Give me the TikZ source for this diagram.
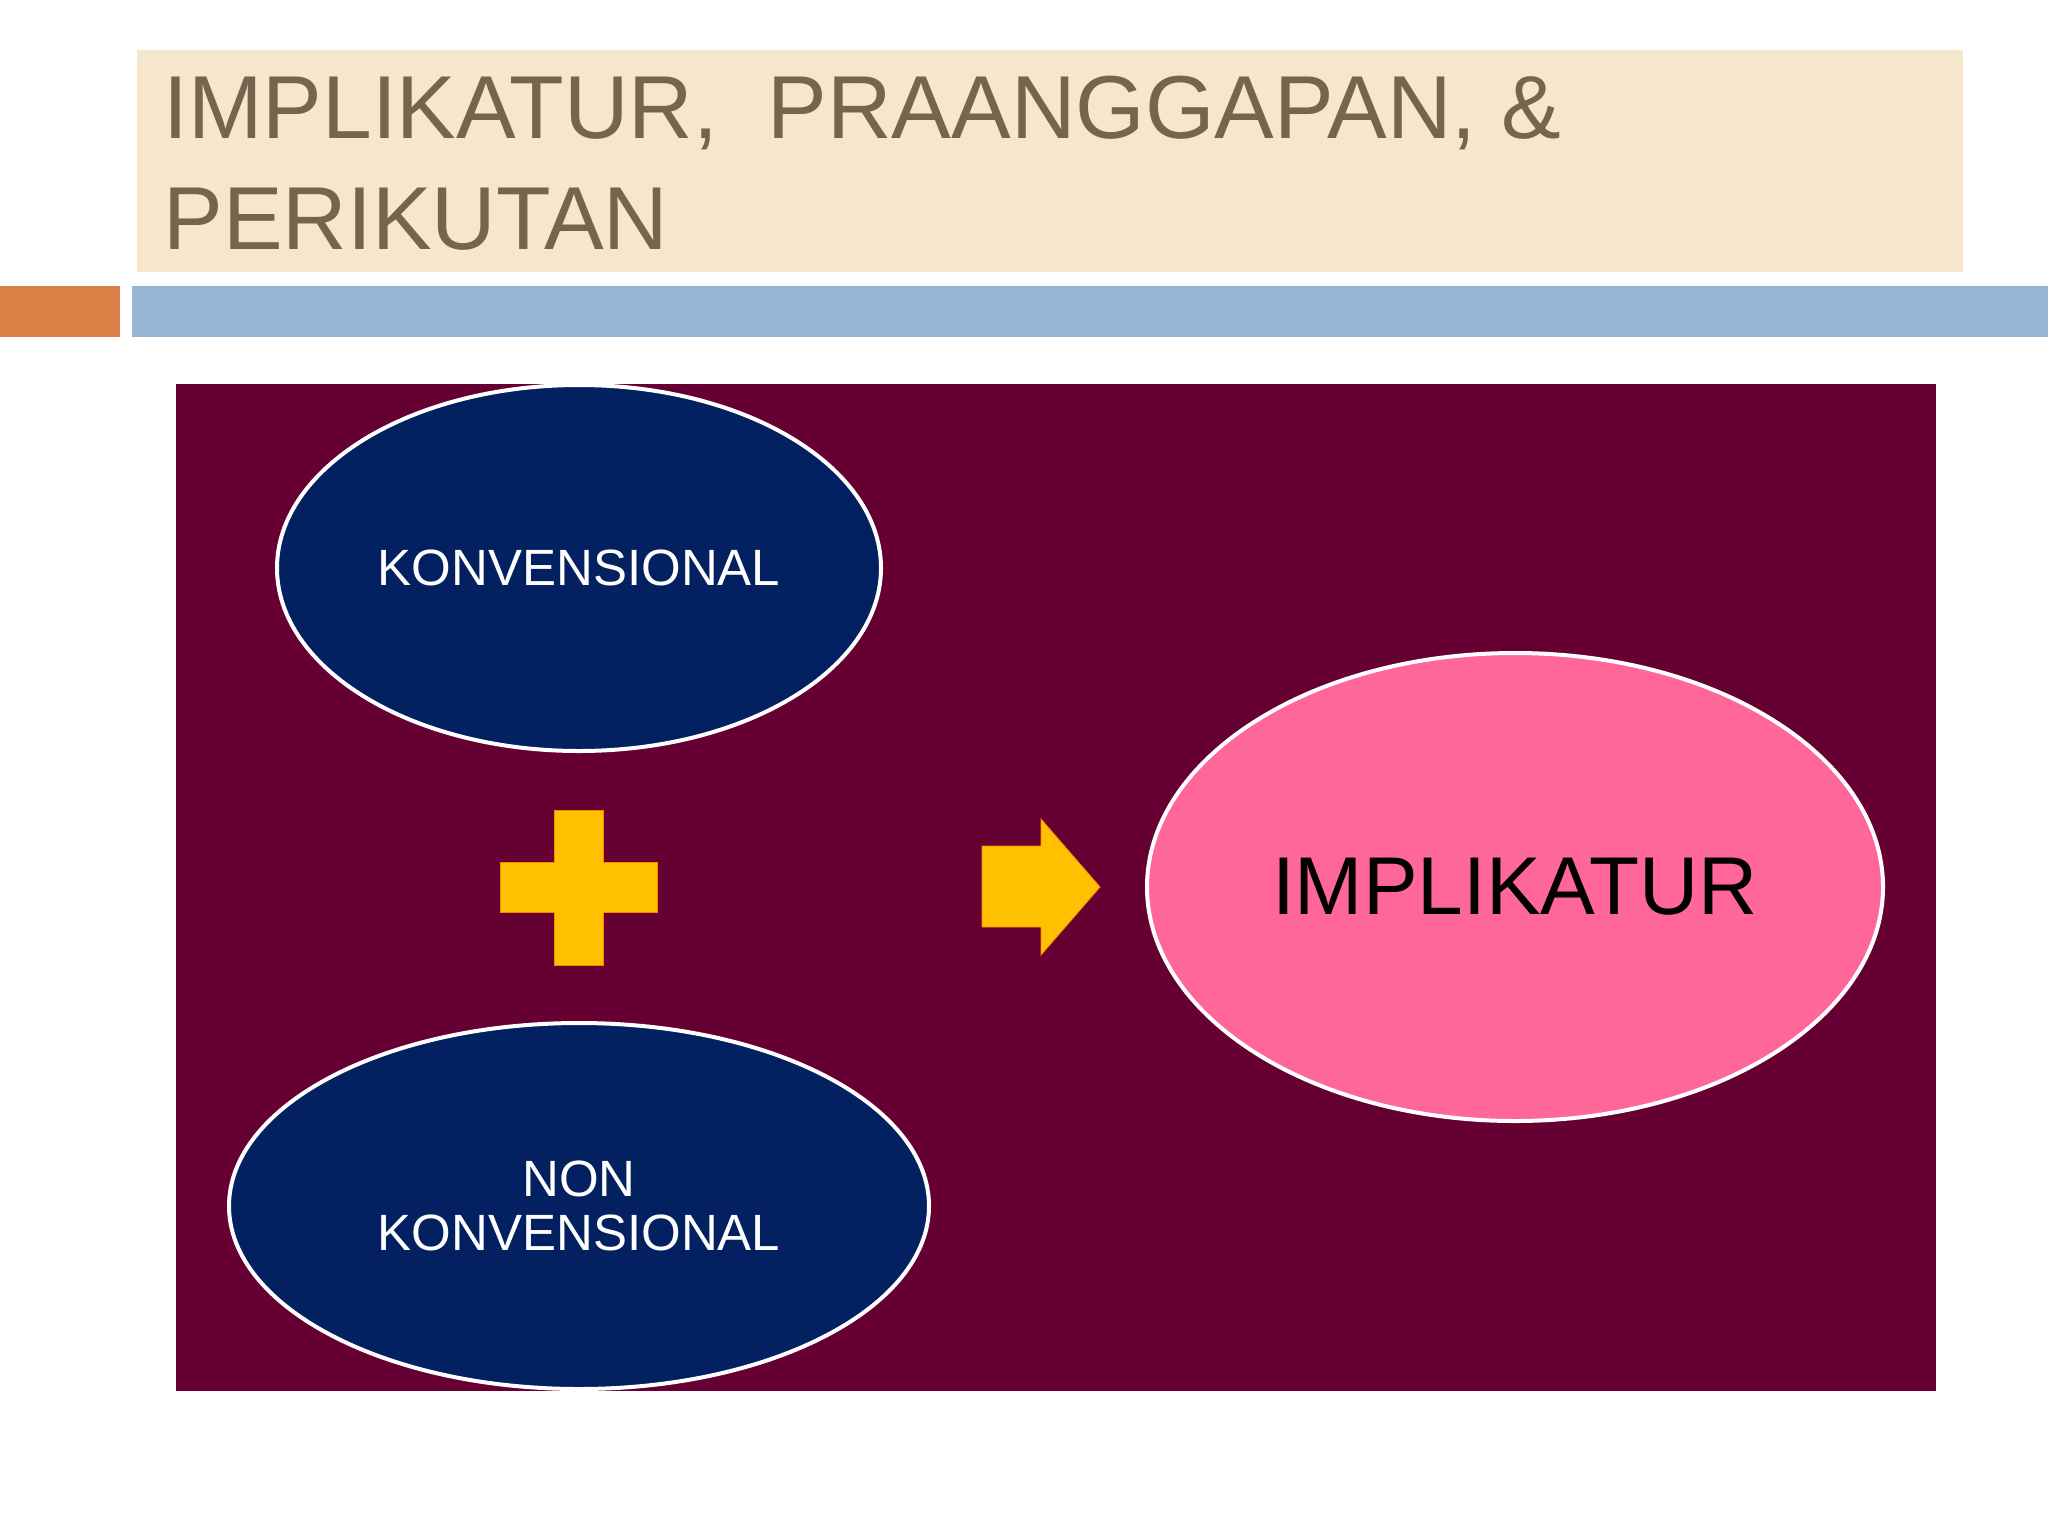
\documentclass[tikz,border=0pt]{standalone}
\usepackage{fontspec}
\setmainfont{Liberation Sans}
\usepackage{xcolor}
\usepackage{tikz}
\usetikzlibrary{shapes.geometric}

\definecolor{titlebg}{HTML}{F5E6CC}
\definecolor{titletext}{HTML}{75654F}
\definecolor{barorange}{HTML}{DD8047}
\definecolor{barblue}{HTML}{94B6D2}
\definecolor{maroon}{HTML}{660033}
\definecolor{navy}{HTML}{032060}
\definecolor{pinkfill}{HTML}{FF6699}
\definecolor{gold}{HTML}{FFC000}

\tikzset{
    oval/.style={ellipse, draw=white, line width=2pt, inner sep=0pt},
    blueoval/.style={oval, fill=navy, text=white,
        font=\fontsize{25.5}{27}\selectfont, align=center},
    goldshape/.style={fill=gold, draw=orange!90!gold, line width=0.4pt}
}

\begin{document}
\begin{tikzpicture}[x=0.5pt,y=-0.5pt]
        \useasboundingbox (0,0) rectangle (2048,1536);
        \fill[white] (0,0) rectangle (2048,1536);
        % Title
        \fill[titlebg] (137,50) rectangle (1963,272);
        \node[anchor=base west, inner sep=0pt, text=titletext, align=left,
            font=\fontsize{44.7}{55}\selectfont] (title) at (163,249)
            {IMPLIKATUR,\ \ PRAANGGAPAN, \&\\PERIKUTAN};
        \fill[barorange] (0,286) rectangle (120,337);
        \fill[barblue] (132,286) rectangle (2048,337);
        % Panel
        \fill[maroon] (176,384) rectangle (1936,1391);
        \node[blueoval, minimum width=302pt, minimum height=183pt] (konv) at (579,568)
            {KONVENSIONAL};
        \node[blueoval, minimum width=350pt, minimum height=183pt] (nonkonv) at (579,1206)
            {NON\\KONVENSIONAL};
        \node[oval, fill=pinkfill, text=black, minimum width=368pt, minimum height=234pt,
            font=\fontsize{41}{44}\selectfont] (impl) at (1515,887) {IMPLIKATUR};
        % Plus and arrow
        \filldraw[goldshape] (554,810) -- (603,810) -- (603,862) -- (657,862)
            -- (657,912) -- (603,912) -- (603,965) -- (554,965) -- (554,912)
            -- (500,912) -- (500,862) -- (554,862) -- cycle;
        \filldraw[goldshape] (982,846) -- (1041,846) -- (1041,819) -- (1100,887)
            -- (1041,955) -- (1041,927) -- (982,927) -- cycle;
        \end{tikzpicture}
\end{document}
